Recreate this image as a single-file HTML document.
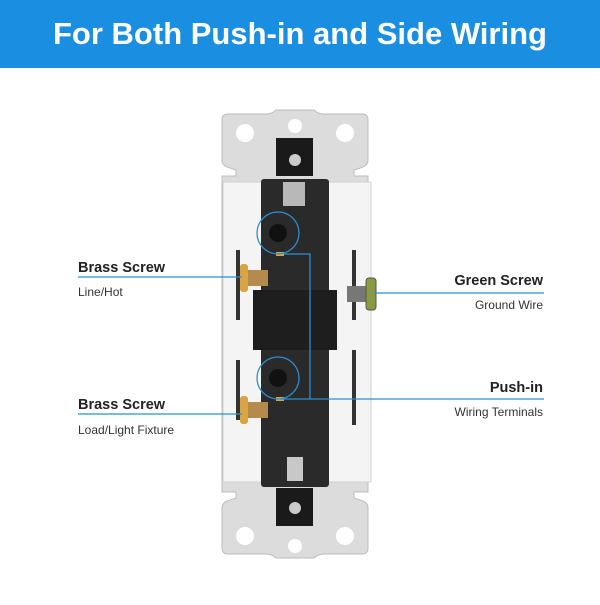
<!DOCTYPE html>
<html><head><style>
body{margin:0;width:600px;height:600px;background:#fff;overflow:hidden;font-family:"Liberation Sans",sans-serif}
</style></head><body>
<svg width="600" height="600" xmlns="http://www.w3.org/2000/svg" font-family="Liberation Sans, sans-serif">
<rect x="0" y="0" width="600" height="68" fill="#1a8ee0"/>
<text x="300" y="44" text-anchor="middle" fill="#fff" font-size="31" font-weight="bold">For Both Push-in and Side Wiring</text>
<path d="M228,114 h38 q6,0 10,-4 h38 q4,4 10,4 h38 q6,0 6,6 v40 q0,6 -8,8 l-6,2 v6 h14 v316 h-14 v6 l6,2 q8,2 8,8 v40 q0,6 -6,6 h-38 q-6,0 -10,4 h-38 q-4,-4 -10,-4 h-38 q-6,0 -6,-6 v-40 q0,-6 8,-8 l6,-2 v-6 h-14 v-316 h14 v-6 l-6,-2 q-8,-2 -8,-8 v-40 q0,-6 6,-6z" fill="#dcdcdc" stroke="#bdbdbd"/>
<circle cx="245" cy="133" r="9" fill="#fff"/><circle cx="295" cy="126" r="7" fill="#fff"/><circle cx="345" cy="133" r="9" fill="#fff"/>
<circle cx="245" cy="536" r="9" fill="#fff"/><circle cx="295" cy="546" r="7" fill="#fff"/><circle cx="345" cy="536" r="9" fill="#fff"/>
<rect x="223" y="182" width="148" height="300" fill="#f4f4f4" stroke="#cfcfcf"/>
<rect x="236" y="250" width="4" height="70" fill="#333"/><rect x="236" y="360" width="4" height="60" fill="#333"/>
<rect x="352" y="250" width="4" height="70" fill="#333"/><rect x="352" y="350" width="4" height="75" fill="#333"/>
<rect x="261" y="179" width="68" height="308" rx="3" fill="#2a2a2a"/>
<rect x="253" y="290" width="84" height="60" fill="#1e1e1e"/>
<rect x="276" y="138" width="37" height="38" fill="#1a1a1a"/>
<rect x="276" y="488" width="37" height="38" fill="#1a1a1a"/>
<circle cx="295" cy="160" r="6" fill="#ccc"/><circle cx="295" cy="508" r="6" fill="#ccc"/>
<rect x="283" y="182" width="22" height="24" fill="#b8b8b8"/>
<rect x="287" y="457" width="16" height="24" fill="#c8c8c8"/>
<circle cx="278" cy="233" r="9" fill="#111"/><circle cx="278" cy="378" r="9" fill="#111"/>
<rect x="276" y="252" width="8" height="4" fill="#d9a441"/><rect x="276" y="397" width="8" height="4" fill="#d9a441"/>
<rect x="246" y="270" width="22" height="16" fill="#b58a4a"/><rect x="240" y="264" width="8" height="28" rx="3" fill="#d9a441"/>
<rect x="246" y="402" width="22" height="16" fill="#b58a4a"/><rect x="240" y="396" width="8" height="28" rx="3" fill="#d9a441"/>
<rect x="347" y="286" width="20" height="16" fill="#777"/><rect x="366" y="278" width="10" height="32" rx="3" fill="#8a9a40" stroke="#555"/>
<g stroke="#2a8fd0" stroke-width="1.3" fill="none">
<circle cx="278" cy="233" r="21"/><circle cx="278" cy="378" r="21"/>
<line x1="78" y1="277" x2="242" y2="277"/>
<line x1="78" y1="414" x2="242" y2="414"/>
<line x1="374" y1="293" x2="544" y2="293"/>
<polyline points="284,254 310,254 310,399 544,399"/>
<line x1="280" y1="399" x2="310" y2="399"/>
</g>
<g font-size="14.5" font-weight="bold" fill="#222">
<text x="78" y="272">Brass Screw</text>
<text x="78" y="409">Brass Screw</text>
<text x="543" y="285" text-anchor="end">Green Screw</text>
<text x="543" y="392" text-anchor="end">Push-in</text>
</g>
<g font-size="12" fill="#333">
<text x="78" y="296">Line/Hot</text>
<text x="78" y="434">Load/Light Fixture</text>
<text x="543" y="309" text-anchor="end">Ground Wire</text>
<text x="543" y="416" text-anchor="end">Wiring Terminals</text>
</g>
</svg>
</body></html>
